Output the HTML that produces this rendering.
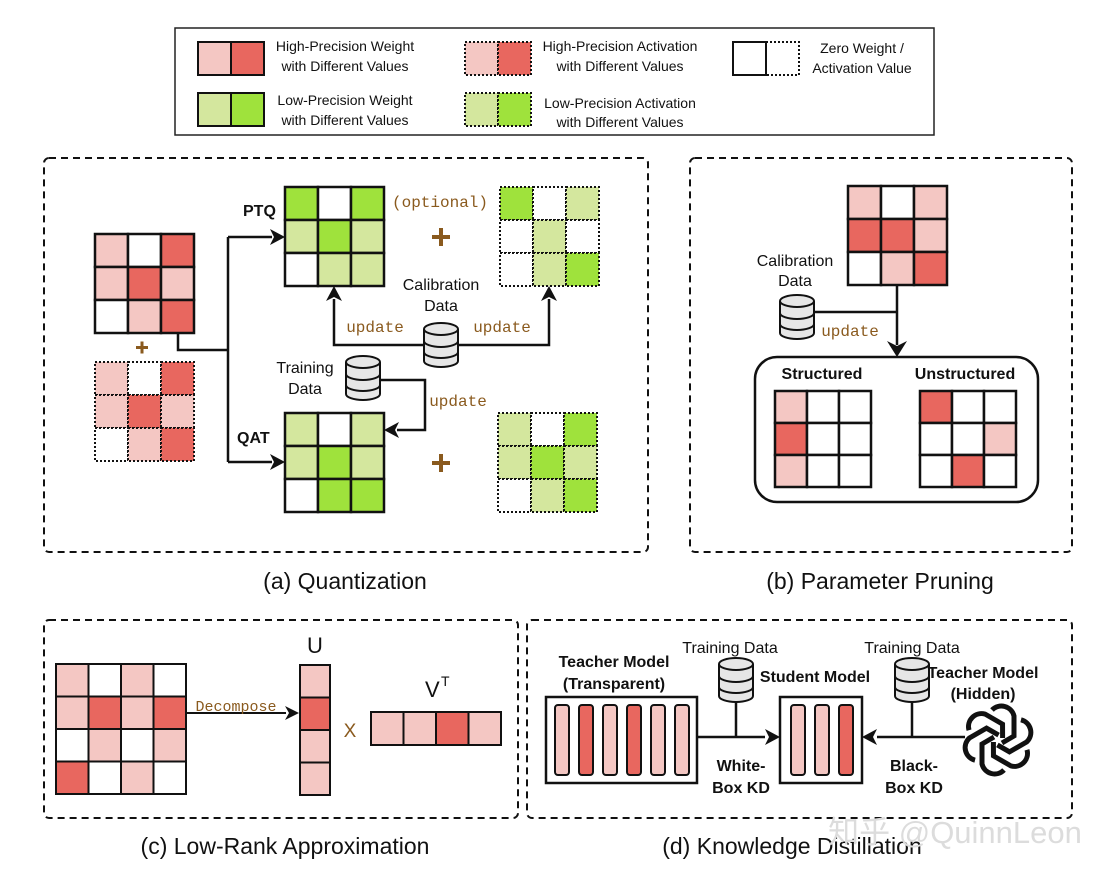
<!DOCTYPE html>
<html><head><meta charset="utf-8"><style>
html,body{margin:0;padding:0;background:#fff;}
svg{display:block;}
text{font-family:"Liberation Sans",sans-serif;fill:#111;}
.b{font-weight:bold;}
.br{fill:#8a5a1e;font-family:"Liberation Mono",monospace;}
</style></head><body>
<svg width="1119" height="885" viewBox="0 0 1119 885" xmlns="http://www.w3.org/2000/svg">
<defs>
<g id="db">
<path d="M-17,-16 v32 a17,6 0 0 0 34,0 v-32" fill="#e6e6e6" stroke="#111" stroke-width="2"/>
<ellipse cx="0" cy="-16" rx="17" ry="6" fill="#e6e6e6" stroke="#111" stroke-width="2"/>
<path d="M-17,-4 a17,6 0 0 0 34,0 M-17,7 a17,6 0 0 0 34,0" fill="none" stroke="#111" stroke-width="2"/>
</g>
</defs>
<!-- Legend -->
<rect x="175" y="28" width="759" height="107" fill="#fff" stroke="#222" stroke-width="1.5"/>
<g stroke="#111" stroke-width="2">
<rect x="198" y="42" width="33" height="33" fill="#f4c7c3"/><rect x="231" y="42" width="33" height="33" fill="#e8675f"/>
<rect x="198" y="93" width="33" height="33" fill="#d4e79e"/><rect x="231" y="93" width="33" height="33" fill="#9fe23c"/>
</g>
<g stroke="#111" stroke-width="2" stroke-dasharray="2,2">
<rect x="465" y="42" width="33" height="33" fill="#f4c7c3"/><rect x="498" y="42" width="33" height="33" fill="#e8675f"/>
<rect x="465" y="93" width="33" height="33" fill="#d4e79e"/><rect x="498" y="93" width="33" height="33" fill="#9fe23c"/>
<rect x="766" y="42" width="33" height="33" fill="#fff"/>
</g>
<rect x="733" y="42" width="33" height="33" fill="#fff" stroke="#111" stroke-width="2"/>
<g font-size="14" text-anchor="middle">
<text x="345" y="51">High-Precision Weight</text><text x="345" y="71">with Different Values</text>
<text x="345" y="105">Low-Precision Weight</text><text x="345" y="125">with Different Values</text>
<text x="620" y="51">High-Precision Activation</text><text x="620" y="71">with Different Values</text>
<text x="620" y="108">Low-Precision Activation</text><text x="620" y="127">with Different Values</text>
<text x="862" y="53">Zero Weight  /</text><text x="862" y="73">Activation Value</text>
</g>
<!-- Panels -->
<g fill="none" stroke="#111" stroke-width="2" stroke-dasharray="7,5">
<rect x="44" y="158" width="604" height="394" rx="5"/>
<rect x="690" y="158" width="382" height="394" rx="5"/>
<rect x="44" y="620" width="474" height="198" rx="5"/>
<rect x="527" y="620" width="545" height="198" rx="5"/>
</g>
<g font-size="23" text-anchor="middle">
<text x="345" y="589">(a) Quantization</text>
<text x="880" y="589">(b) Parameter Pruning</text>
<text x="285" y="854">(c) Low-Rank Approximation</text>
<text x="792" y="854">(d) Knowledge Distillation</text>
</g>
<text x="955" y="843" font-size="31" style="fill:#dcdcdc;font-family:'Liberation Sans','Noto Sans CJK SC',sans-serif" text-anchor="middle">知乎 @QuinnLeon</text>

<!-- (a) grids -->
<g stroke="#111" stroke-width="2.5">
<rect x="95" y="234" width="33" height="33" fill="#f4c7c3"/><rect x="128" y="234" width="33" height="33" fill="#fff"/><rect x="161" y="234" width="33" height="33" fill="#e8675f"/>
<rect x="95" y="267" width="33" height="33" fill="#f4c7c3"/><rect x="128" y="267" width="33" height="33" fill="#e8675f"/><rect x="161" y="267" width="33" height="33" fill="#f4c7c3"/>
<rect x="95" y="300" width="33" height="33" fill="#fff"/><rect x="128" y="300" width="33" height="33" fill="#f4c7c3"/><rect x="161" y="300" width="33" height="33" fill="#e8675f"/>
<rect x="285" y="187" width="33" height="33" fill="#9fe23c"/><rect x="318" y="187" width="33" height="33" fill="#fff"/><rect x="351" y="187" width="33" height="33" fill="#9fe23c"/>
<rect x="285" y="220" width="33" height="33" fill="#d4e79e"/><rect x="318" y="220" width="33" height="33" fill="#9fe23c"/><rect x="351" y="220" width="33" height="33" fill="#d4e79e"/>
<rect x="285" y="253" width="33" height="33" fill="#fff"/><rect x="318" y="253" width="33" height="33" fill="#d4e79e"/><rect x="351" y="253" width="33" height="33" fill="#d4e79e"/>
<rect x="285" y="413" width="33" height="33" fill="#d4e79e"/><rect x="318" y="413" width="33" height="33" fill="#fff"/><rect x="351" y="413" width="33" height="33" fill="#d4e79e"/>
<rect x="285" y="446" width="33" height="33" fill="#d4e79e"/><rect x="318" y="446" width="33" height="33" fill="#9fe23c"/><rect x="351" y="446" width="33" height="33" fill="#d4e79e"/>
<rect x="285" y="479" width="33" height="33" fill="#fff"/><rect x="318" y="479" width="33" height="33" fill="#9fe23c"/><rect x="351" y="479" width="33" height="33" fill="#9fe23c"/>
</g>
<g stroke="#111" stroke-width="2" stroke-dasharray="2,2">
<rect x="95" y="362" width="33" height="33" fill="#f4c7c3"/><rect x="128" y="362" width="33" height="33" fill="#fff"/><rect x="161" y="362" width="33" height="33" fill="#e8675f"/>
<rect x="95" y="395" width="33" height="33" fill="#f4c7c3"/><rect x="128" y="395" width="33" height="33" fill="#e8675f"/><rect x="161" y="395" width="33" height="33" fill="#f4c7c3"/>
<rect x="95" y="428" width="33" height="33" fill="#fff"/><rect x="128" y="428" width="33" height="33" fill="#f4c7c3"/><rect x="161" y="428" width="33" height="33" fill="#e8675f"/>
<rect x="500" y="187" width="33" height="33" fill="#9fe23c"/><rect x="533" y="187" width="33" height="33" fill="#fff"/><rect x="566" y="187" width="33" height="33" fill="#d4e79e"/>
<rect x="500" y="220" width="33" height="33" fill="#fff"/><rect x="533" y="220" width="33" height="33" fill="#d4e79e"/><rect x="566" y="220" width="33" height="33" fill="#fff"/>
<rect x="500" y="253" width="33" height="33" fill="#fff"/><rect x="533" y="253" width="33" height="33" fill="#d4e79e"/><rect x="566" y="253" width="33" height="33" fill="#9fe23c"/>
<rect x="498" y="413" width="33" height="33" fill="#d4e79e"/><rect x="531" y="413" width="33" height="33" fill="#fff"/><rect x="564" y="413" width="33" height="33" fill="#9fe23c"/>
<rect x="498" y="446" width="33" height="33" fill="#d4e79e"/><rect x="531" y="446" width="33" height="33" fill="#9fe23c"/><rect x="564" y="446" width="33" height="33" fill="#d4e79e"/>
<rect x="498" y="479" width="33" height="33" fill="#fff"/><rect x="531" y="479" width="33" height="33" fill="#d4e79e"/><rect x="564" y="479" width="33" height="33" fill="#9fe23c"/>
</g>
<g fill="none" stroke="#111" stroke-width="2.5">
<path d="M178,333 V350 H228 M228,237 V462 M228,237 H272 M228,462 H272"/>
<path d="M334,299 V345 H424 M458,345 H549 V299"/>
<path d="M381,380 H425 V430 H397"/>
</g>
<g fill="#111">
<path d="M285,237 l-15,-8 l4,8 l-4,8z"/>
<path d="M285,462 l-15,-8 l4,8 l-4,8z"/>
<path d="M334,286 l-8,15 l8,-4 l8,4z"/>
<path d="M549,286 l-8,15 l8,-4 l8,4z"/>
<path d="M384,430 l15,-8 l-4,8 l4,8z"/>
</g>
<use href="#db" x="441" y="345"/>
<use href="#db" x="363" y="378"/>
<g font-size="16">
<text x="243" y="216" class="b">PTQ</text>
<text x="237" y="443" class="b">QAT</text>
<text x="441" y="290" text-anchor="middle">Calibration</text>
<text x="441" y="311" text-anchor="middle">Data</text>
<text x="305" y="373" text-anchor="middle">Training</text>
<text x="305" y="394" text-anchor="middle">Data</text>
</g>
<g font-size="16">
<text x="440" y="207" text-anchor="middle" class="br">(optional)</text>
<text x="375" y="332" text-anchor="middle" class="br">update</text>
<text x="502" y="332" text-anchor="middle" class="br">update</text>
<text x="458" y="406" text-anchor="middle" class="br">update</text>
</g>
<g fill="#8a5a1e">
<rect x="432" y="235" width="18" height="4"/><rect x="439" y="228" width="4" height="18"/>
<rect x="432" y="461" width="18" height="4"/><rect x="439" y="454" width="4" height="18"/>
<rect x="136" y="346" width="12" height="3"/><rect x="140.5" y="341.5" width="3" height="12"/>
</g>

<!-- (b) -->
<g stroke="#111" stroke-width="2.5">
<rect x="848" y="186" width="33" height="33" fill="#f4c7c3"/><rect x="881" y="186" width="33" height="33" fill="#fff"/><rect x="914" y="186" width="33" height="33" fill="#f4c7c3"/>
<rect x="848" y="219" width="33" height="33" fill="#e8675f"/><rect x="881" y="219" width="33" height="33" fill="#e8675f"/><rect x="914" y="219" width="33" height="33" fill="#f4c7c3"/>
<rect x="848" y="252" width="33" height="33" fill="#fff"/><rect x="881" y="252" width="33" height="33" fill="#f4c7c3"/><rect x="914" y="252" width="33" height="33" fill="#e8675f"/>
</g>
<path d="M897,285 V345 M815,312 H897" stroke="#111" stroke-width="2.5" fill="none"/>
<path d="M897,357 l-10,-16 l10,5 l10,-5z" fill="#111"/>
<use href="#db" x="797" y="317"/>
<text x="795" y="266" font-size="16" text-anchor="middle">Calibration</text>
<text x="795" y="286" font-size="16" text-anchor="middle">Data</text>
<text x="850" y="336" font-size="16" text-anchor="middle" class="br">update</text>
<rect x="755" y="357" width="283" height="145" rx="22" fill="none" stroke="#111" stroke-width="2.5"/>
<text x="822" y="379" font-size="16" class="b" text-anchor="middle">Structured</text>
<text x="965" y="379" font-size="16" class="b" text-anchor="middle">Unstructured</text>
<g stroke="#111" stroke-width="2.5">
<rect x="775" y="391" width="32" height="32" fill="#f4c7c3"/><rect x="807" y="391" width="32" height="32" fill="#fff"/><rect x="839" y="391" width="32" height="32" fill="#fff"/>
<rect x="775" y="423" width="32" height="32" fill="#e8675f"/><rect x="807" y="423" width="32" height="32" fill="#fff"/><rect x="839" y="423" width="32" height="32" fill="#fff"/>
<rect x="775" y="455" width="32" height="32" fill="#f4c7c3"/><rect x="807" y="455" width="32" height="32" fill="#fff"/><rect x="839" y="455" width="32" height="32" fill="#fff"/>
<rect x="920" y="391" width="32" height="32" fill="#e8675f"/><rect x="952" y="391" width="32" height="32" fill="#fff"/><rect x="984" y="391" width="32" height="32" fill="#fff"/>
<rect x="920" y="423" width="32" height="32" fill="#fff"/><rect x="952" y="423" width="32" height="32" fill="#fff"/><rect x="984" y="423" width="32" height="32" fill="#f4c7c3"/>
<rect x="920" y="455" width="32" height="32" fill="#fff"/><rect x="952" y="455" width="32" height="32" fill="#e8675f"/><rect x="984" y="455" width="32" height="32" fill="#fff"/>
</g>

<!-- (c) -->
<g stroke="#111" stroke-width="2">
<rect x="56" y="664" width="32.5" height="32.5" fill="#f4c7c3"/><rect x="88.5" y="664" width="32.5" height="32.5" fill="#fff"/><rect x="121" y="664" width="32.5" height="32.5" fill="#f4c7c3"/><rect x="153.5" y="664" width="32.5" height="32.5" fill="#fff"/>
<rect x="56" y="696.5" width="32.5" height="32.5" fill="#f4c7c3"/><rect x="88.5" y="696.5" width="32.5" height="32.5" fill="#e8675f"/><rect x="121" y="696.5" width="32.5" height="32.5" fill="#f4c7c3"/><rect x="153.5" y="696.5" width="32.5" height="32.5" fill="#e8675f"/>
<rect x="56" y="729" width="32.5" height="32.5" fill="#fff"/><rect x="88.5" y="729" width="32.5" height="32.5" fill="#f4c7c3"/><rect x="121" y="729" width="32.5" height="32.5" fill="#fff"/><rect x="153.5" y="729" width="32.5" height="32.5" fill="#f4c7c3"/>
<rect x="56" y="761.5" width="32.5" height="32.5" fill="#e8675f"/><rect x="88.5" y="761.5" width="32.5" height="32.5" fill="#fff"/><rect x="121" y="761.5" width="32.5" height="32.5" fill="#f4c7c3"/><rect x="153.5" y="761.5" width="32.5" height="32.5" fill="#fff"/>
<rect x="300" y="665" width="30" height="32.5" fill="#f4c7c3"/><rect x="300" y="697.5" width="30" height="32.5" fill="#e8675f"/><rect x="300" y="730" width="30" height="32.5" fill="#f4c7c3"/><rect x="300" y="762.5" width="30" height="32.5" fill="#f4c7c3"/>
<rect x="371" y="712" width="32.5" height="33" fill="#f4c7c3"/><rect x="403.5" y="712" width="32.5" height="33" fill="#f4c7c3"/><rect x="436" y="712" width="32.5" height="33" fill="#e8675f"/><rect x="468.5" y="712" width="32.5" height="33" fill="#f4c7c3"/>
</g>
<path d="M186,713 H286" stroke="#111" stroke-width="2"/>
<path d="M299,713 l-14,-7 l4,7 l-4,7z" fill="#111"/>
<text x="236" y="711" font-size="15" text-anchor="middle" class="br">Decompose</text>
<text x="315" y="653" font-size="22" text-anchor="middle">U</text>
<text x="350" y="737" font-size="19" text-anchor="middle" style="fill:#8a5a1e">X</text>
<text x="425" y="697" font-size="22">V</text><text x="441" y="686" font-size="14">T</text>

<!-- (d) -->
<rect x="546" y="697" width="151" height="86" fill="#fff" stroke="#111" stroke-width="2.5"/>
<g stroke="#111" stroke-width="2">
<rect x="555" y="705" width="14" height="70" rx="3" fill="#f4c7c3"/>
<rect x="579" y="705" width="14" height="70" rx="3" fill="#e8675f"/>
<rect x="603" y="705" width="14" height="70" rx="3" fill="#f4c7c3"/>
<rect x="627" y="705" width="14" height="70" rx="3" fill="#e8675f"/>
<rect x="651" y="705" width="14" height="70" rx="3" fill="#f4c7c3"/>
<rect x="675" y="705" width="14" height="70" rx="3" fill="#f4c7c3"/>
</g>
<rect x="780" y="697" width="82" height="86" fill="#fff" stroke="#111" stroke-width="2.5"/>
<g stroke="#111" stroke-width="2">
<rect x="791" y="705" width="14" height="70" rx="3" fill="#f4c7c3"/>
<rect x="815" y="705" width="14" height="70" rx="3" fill="#f4c7c3"/>
<rect x="839" y="705" width="14" height="70" rx="3" fill="#e8675f"/>
</g>
<path d="M697,737 H765 M736,700 V737 M965,737 H877 M912,700 V737" stroke="#111" stroke-width="2.5" fill="none"/>
<path d="M780,737 l-15,-8 l4,8 l-4,8z M862,737 l15,-8 l-4,8 l4,8z" fill="#111"/>
<use href="#db" x="736" y="680"/>
<use href="#db" x="912" y="680"/>
<g font-size="16">
<text x="730" y="653" text-anchor="middle">Training Data</text>
<text x="912" y="653" text-anchor="middle">Training Data</text>
</g>
<g font-size="16" text-anchor="middle">
<text x="614" y="667" class="b">Teacher Model</text>
<text x="614" y="689" class="b">(Transparent)</text>
<text x="815" y="682" class="b">Student Model</text>
<text x="983" y="678" class="b">Teacher Model</text>
<text x="983" y="699" class="b">(Hidden)</text>
<text x="741" y="771" class="b">White-</text>
<text x="741" y="793" class="b">Box KD</text>
<text x="914" y="771" class="b">Black-</text>
<text x="914" y="793" class="b">Box KD</text>
</g>
<g transform="translate(998,740)" fill="none" stroke="#111" stroke-width="5">
<g id="pet"><path d="M-6,-30 a13,13 0 0 1 22,6 v20 l-12,7"/></g>
<use href="#pet" transform="rotate(60)"/><use href="#pet" transform="rotate(120)"/><use href="#pet" transform="rotate(180)"/><use href="#pet" transform="rotate(240)"/><use href="#pet" transform="rotate(300)"/>
</g>
</svg>
</body></html>
